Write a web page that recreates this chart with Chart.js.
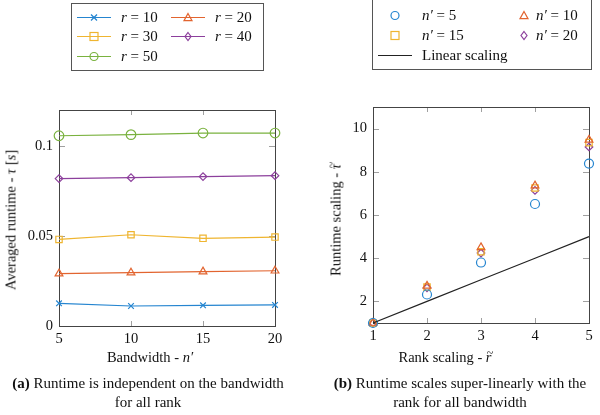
<!DOCTYPE html>
<html>
<head>
<meta charset="utf-8">
<script src="https://cdn.jsdelivr.net/npm/chart.js@4.4.1/dist/chart.umd.min.js"></script>
<style>
  body { margin: 0; background: #fff; }
  #wrap { position: relative; width: 600px; height: 415px; overflow: hidden;
          font-family: "Liberation Serif", "Times New Roman", serif; color: #111; }
  canvas { position: absolute; top: 0; }
  .legend { position: absolute; border: 1px solid #555; box-sizing: border-box; }
  .item { position: absolute; font-size: 15px; line-height: 16px; white-space: nowrap; }
  .item svg { position: absolute; }
  .lbl { position: absolute; font-size: 14.5px; white-space: nowrap; transform: translate(-50%, -50%); }
  .ylbl { position: absolute; font-size: 14.5px; white-space: nowrap; transform: translate(-50%, -50%) rotate(-90deg); }
  .cap { position: absolute; font-size: 15px; line-height: 19px; text-align: center; white-space: nowrap; transform: translateX(-50%); }
  .acc { position: relative; display: inline-block; font-style: italic; }
  .acc::after { content: "~"; position: absolute; left: 1px; top: -3px; font-style: normal; font-size: 12px; }
</style>
</head>
<body>
<div id="wrap">
  <canvas id="left" width="300" height="415" style="left:0"></canvas>
  <canvas id="right" width="300" height="415" style="left:300px"></canvas>
  <div class="legend" id="legLeft" style="left:71px;top:3px;width:193px;height:68px"></div>
  <div class="legend" id="legRight" style="left:372px;top:-2px;width:220px;height:72px"></div>
  <div class="ylbl" style="left:11px;top:220px">Averaged runtime - <i>τ</i> [<i>s</i>]</div>
  <div class="ylbl" style="left:336px;top:220px">Runtime scaling - <span class="acc">τ</span></div>
  <div class="lbl" style="left:150px;top:357px">Bandwidth - <i>n′</i></div>
  <div class="lbl" style="left:445px;top:357px">Rank scaling - <span class="acc">r</span></div>
  <div class="cap" style="left:148px;top:374px"><b>(a)</b> Runtime is independent on the bandwidth<br>for all rank</div>
  <div class="cap" style="left:460px;top:374px"><b>(b)</b> Runtime scales super-linearly with the<br>rank for all bandwidth</div>
</div>
<script>
// (a) averaged runtime vs bandwidth, one line per rank
const bandwidth = [5, 10, 15, 20];
const ranks = [10, 20, 30, 40, 50];
const runtimeR10 = [0.0126, 0.0111, 0.0115, 0.0117];
const runtimeR20 = [0.0291, 0.0296, 0.0302, 0.0307];
const runtimeR30 = [0.0481, 0.0507, 0.0487, 0.0494];
const runtimeR40 = [0.0819, 0.0824, 0.0830, 0.0835];
const runtimeR50 = [0.1057, 0.1063, 0.1072, 0.1072];
const leftXTicks = [5, 10, 15, 20];
const leftYTicks = [0, 0.05, 0.1];

// (b) runtime scaling vs rank scaling, one marker set per bandwidth
const rankScaling = [1, 2, 3, 4, 5];
const bandwidths = [5, 10, 15, 20];
const scalingN5 = [1, 2.32, 3.80, 6.51, 8.38];
const scalingN10 = [1, 2.72, 4.50, 7.36, 9.48];
const scalingN15 = [1, 2.66, 4.30, 7.25, 9.35];
const scalingN20 = [1, 2.63, 4.24, 7.14, 9.15];
const linearScaling = [1, 2, 3, 4, 5];
const rightXTicks = [1, 2, 3, 4, 5];
const rightYTicks = [2, 4, 6, 8, 10];

const C = {
  blue: '#2585d0', orange: '#e2642f', yellow: '#efb530',
  purple: '#8c3f9c', green: '#7ab23f'
};
const FONT = { family: '"Liberation Serif", "Times New Roman", serif', size: 14.5 };

// axis box + inward tick marks on all four sides (pgfplots look)
const framePlugin = {
  id: 'frame',
  beforeDatasetsDraw(chart) {
    const { ctx, chartArea: a, scales } = chart;
    ctx.save();
    ctx.strokeStyle = '#a0a0a0';
    ctx.lineWidth = 1;
    ctx.beginPath();
    scales.x.ticks.forEach(t => {
      const p = Math.round(scales.x.getPixelForValue(t.value)) + 0.5;
      ctx.moveTo(p, a.top); ctx.lineTo(p, a.top + 5);
      ctx.moveTo(p, a.bottom); ctx.lineTo(p, a.bottom - 5);
    });
    scales.y.ticks.forEach(t => {
      const p = Math.round(scales.y.getPixelForValue(t.value)) + 0.5;
      ctx.moveTo(a.left, p); ctx.lineTo(a.left + 6, p);
      ctx.moveTo(a.right, p); ctx.lineTo(a.right - 6, p);
    });
    ctx.stroke();
    ctx.strokeStyle = '#444';
    ctx.strokeRect(Math.round(a.left) + 0.5, Math.round(a.top) + 0.5,
                   Math.round(a.right - a.left), Math.round(a.bottom - a.top));
    ctx.restore();
  }
};

function axes(xTicks, yTicks, xMin, xMax, yMin, yMax, yWidth, xHeight, yFmt) {
  const tickCfg = { color: '#111', font: FONT };
  return {
    x: {
      type: 'linear', min: xMin, max: xMax,
      grid: { display: false, drawTicks: false }, border: { display: false },
      ticks: { ...tickCfg, padding: 4, maxRotation: 0 },
      afterBuildTicks: s => { s.ticks = xTicks.map(v => ({ value: v })); },
      afterFit: s => { s.height = xHeight; }
    },
    y: {
      type: 'linear', min: yMin, max: yMax,
      grid: { display: false, drawTicks: false }, border: { display: false },
      ticks: { ...tickCfg, padding: 6, callback: yFmt },
      afterBuildTicks: s => { s.ticks = yTicks.map(v => ({ value: v })); },
      afterFit: s => { s.width = yWidth; }
    }
  };
}

function lineSet(ys, color, style, radius) {
  return {
    data: bandwidth.map((x, i) => ({ x, y: ys[i] })),
    borderColor: color, borderWidth: 1.2,
    pointStyle: style, pointRadius: radius, pointBorderWidth: 1.2,
    pointBorderColor: color, pointBackgroundColor: 'rgba(0,0,0,0)',
    tension: 0, clip: false
  };
}

function markSet(ys, color, style, radius) {
  return {
    type: 'scatter',
    data: rankScaling.map((x, i) => ({ x, y: ys[i] })),
    pointStyle: style, pointRadius: radius, pointBorderWidth: 1.2,
    borderColor: color, pointBorderColor: color, pointBackgroundColor: 'rgba(0,0,0,0)',
    showLine: false, clip: false
  };
}

new Chart(document.getElementById('left'), {
  type: 'line',
  data: {
    datasets: [
      lineSet(runtimeR10, C.blue, 'crossRot', 4),
      lineSet(runtimeR20, C.orange, 'triangle', 4.5),
      lineSet(runtimeR30, C.yellow, 'rect', 4.5),
      lineSet(runtimeR40, C.purple, 'rectRot', 3.8),
      lineSet(runtimeR50, C.green, 'circle', 4.8)
    ]
  },
  options: {
    responsive: false, animation: false, devicePixelRatio: 1,
    layout: { padding: { left: 0, top: 110, right: 25, bottom: 0 } },
    plugins: { legend: { display: false }, tooltip: { enabled: false } },
    scales: axes(leftXTicks, leftYTicks, 5, 20, 0, 0.12, 59, 89,
                 v => String(Number(v.toFixed(2))))
  },
  plugins: [framePlugin]
});

new Chart(document.getElementById('right'), {
  type: 'scatter',
  data: {
    datasets: [
      {
        type: 'line',
        data: rankScaling.map((x, i) => ({ x, y: linearScaling[i] })),
        borderColor: '#222', borderWidth: 1.2, pointRadius: 0, tension: 0, clip: false
      },
      markSet(scalingN5, C.blue, 'circle', 4.5),
      markSet(scalingN10, C.orange, 'triangle', 4.5),
      markSet(scalingN15, C.yellow, 'rect', 4.5),
      markSet(scalingN20, C.purple, 'rectRot', 3.8)
    ]
  },
  options: {
    responsive: false, animation: false, devicePixelRatio: 1,
    layout: { padding: { left: 0, top: 107, right: 11, bottom: 0 } },
    plugins: { legend: { display: false }, tooltip: { enabled: false } },
    scales: axes(rightXTicks, rightYTicks, 1, 5, 1, 11, 73, 92, v => String(v))
  },
  plugins: [framePlugin]
});

// legends (HTML, with small SVG symbols)
function symbol(shape, color, cx, cy) {
  const r = 4;
  if (shape === 'cross') return `<path d="M${cx-3} ${cy-3}L${cx+3} ${cy+3}M${cx-3} ${cy+3}L${cx+3} ${cy-3}" stroke="${color}" stroke-width="1.3" fill="none"/>`;
  if (shape === 'triangle') return `<path d="M${cx} ${cy-r}L${cx+r} ${cy+r*0.8}L${cx-r} ${cy+r*0.8}Z" stroke="${color}" stroke-width="1.2" fill="none"/>`;
  if (shape === 'square') return `<rect x="${cx-r}" y="${cy-r}" width="${2*r}" height="${2*r}" stroke="${color}" stroke-width="1.2" fill="none"/>`;
  if (shape === 'diamond') return `<path d="M${cx} ${cy-r}L${cx+3} ${cy}L${cx} ${cy+r}L${cx-3} ${cy}Z" stroke="${color}" stroke-width="1.2" fill="none"/>`;
  if (shape === 'circle') return `<circle cx="${cx}" cy="${cy}" r="${r}" stroke="${color}" stroke-width="1.2" fill="none"/>`;
  return '';
}

function addItem(box, x, y, shape, color, withLine, html, textX) {
  const w = 34;
  const el = document.createElement('div');
  el.className = 'item';
  el.style.left = x + 'px';
  el.style.top = (y - 8) + 'px';
  let svg = `<svg width="${w}" height="16" style="left:0;top:0" xmlns="http://www.w3.org/2000/svg">`;
  if (withLine) svg += `<line x1="0" y1="8.5" x2="${w}" y2="8.5" stroke="${color}" stroke-width="1.2"/>`;
  svg += symbol(shape, color, w / 2, 8.5) + '</svg>';
  el.innerHTML = svg + `<span style="position:absolute;left:${textX}px;top:0">${html}</span>`;
  box.appendChild(el);
}

const legL = document.getElementById('legLeft');
const leftShapes = ['cross', 'triangle', 'square', 'diamond', 'circle'];
const leftColors = [C.blue, C.orange, C.yellow, C.purple, C.green];
const leftPos = [[5, 13], [99, 13], [5, 32], [99, 32], [5, 52]];
ranks.forEach((r, i) => {
  addItem(legL, leftPos[i][0], leftPos[i][1], leftShapes[i], leftColors[i], true,
          `<i>r</i> = ${r}`, 44);
});

const legR = document.getElementById('legRight');
const rightShapes = ['circle', 'triangle', 'square', 'diamond'];
const rightColors = [C.blue, C.orange, C.yellow, C.purple];
const rightPos = [[5, 16], [134, 16], [5, 36], [134, 36]];
bandwidths.forEach((n, i) => {
  addItem(legR, rightPos[i][0], rightPos[i][1], rightShapes[i], rightColors[i], false,
          `<i>n′</i> = ${n}`, i % 2 ? 29 : 44);
});
addItem(legR, 5, 56, 'none', '#222', true, 'Linear scaling', 44);
</script>
</body>
</html>
